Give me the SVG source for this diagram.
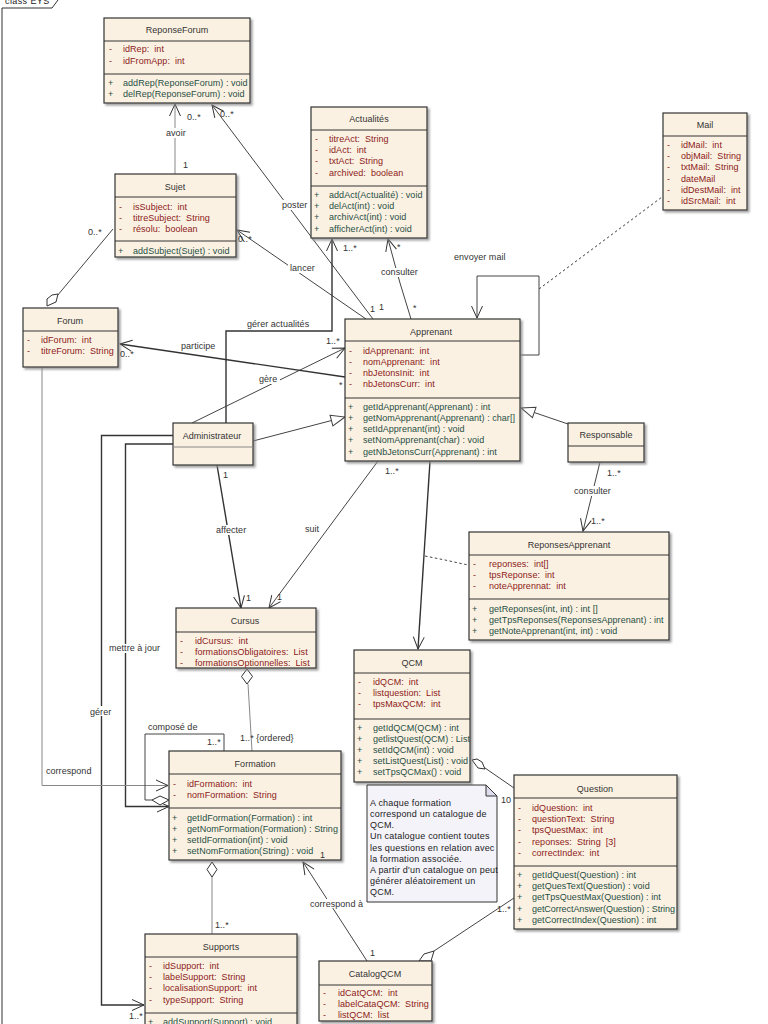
<svg xmlns="http://www.w3.org/2000/svg" width="768" height="1024" viewBox="0 0 768 1024">
<defs>
<filter id="sh" x="-5%" y="-5%" width="115%" height="115%"><feDropShadow dx="2" dy="2" stdDeviation="0.8" flood-color="#888" flood-opacity="0.8"/></filter>
<marker id="open" markerUnits="userSpaceOnUse" markerWidth="14" markerHeight="14" refX="13" refY="7" orient="auto"><path d="M1 1.5L13 7L1 12.5" fill="none" stroke="#333" stroke-width="1"/></marker>
<marker id="tri" markerUnits="userSpaceOnUse" markerWidth="16" markerHeight="14" refX="15" refY="7" orient="auto"><path d="M1 1.5L15 7L1 12.5Z" fill="#fff" stroke="#444" stroke-width="1"/></marker>
</defs>
<style>
text{font-family:"Liberation Sans",Arial,sans-serif;font-size:9px;fill:#222;letter-spacing:.04px}
.box{fill:#fbf1e2;stroke:#333;stroke-width:1.2;filter:url(#sh)}
.div{stroke:#333;stroke-width:1;fill:none}
.name{text-anchor:middle;fill:#333}
.a{fill:#8b1a1a;word-spacing:2.5px}
.m{fill:#1f4f45}
.c{fill:none;stroke:#444;stroke-width:1}
.g{stroke:#888}
.k{stroke:#333;stroke-width:1.4}
.d{stroke-dasharray:2.5 2.5}
.l{fill:#333}
.nt{letter-spacing:.2px}
</style>
<rect width="768" height="1024" fill="#fff"/>
<g id="frame"><path d="M2 1024V8H52L58 0" fill="none" stroke="#333" stroke-width="1"/><text x="5" y="4" style="letter-spacing:.4px">class EYS</text></g>

<g id="connectors">
<path class="c g" d="M175 174V104" marker-end="url(#open)"/>
<path class="c" d="M373 319L212 105" marker-end="url(#open)"/>
<path class="c" d="M366 319L237 230" marker-end="url(#open)"/>
<path class="c" d="M113 229L57 296"/>
<path class="c" d="M411 319L400 283L395 265L388 239" marker-end="url(#open)"/>
<path class="c k" d="M226 423V331H332V239" marker-end="url(#open)"/>
<path class="c" d="M192 423L345 348" marker-end="url(#open)"/>
<path class="c k" d="M345 377L120 344" marker-end="url(#open)"/>
<path class="c" d="M253 441L345 417" marker-end="url(#tri)"/>
<path class="c" d="M568 424L521 408" marker-end="url(#tri)"/>
<path class="c" d="M520 355H539V276H477V318" marker-end="url(#open)"/>
<path class="c d" d="M539 289L662 197"/>
<path class="c" d="M600 462L583 531" marker-end="url(#open)"/>
<path class="c k" d="M217 465L241 608" marker-end="url(#open)"/>
<path class="c" d="M378 461L269 608" marker-end="url(#open)"/>
<path class="c k g" d="M430 461L418 649" marker-end="url(#open)"/>
<path class="c d" d="M425 556L445 560L468 565"/>
<path class="c k" d="M173 435.500H101.500V1005H144" marker-end="url(#open)"/>
<path class="c k" d="M173 444H125.500V806.500H169" marker-end="url(#open)"/>
<path class="c g" d="M42 367V785.500H168" marker-end="url(#open)"/>
<path class="c" d="M224 751V734H145V800H152"/>
<path class="c g" d="M248 684L252 751"/>
<path class="c g" d="M212 934V877"/>
<path class="c" d="M367 961L303 862" marker-end="url(#open)"/>
<path class="c" d="M514 788L485 768"/>
<path class="c" d="M514 898L434 951"/>
</g>
<g id="heads" fill="#fff" stroke="#333">
<path d="M47 306L47 299L52 295L58 294L56 302Z"/>
<path d="M247 669L252.500 676.500L247 684L241.500 676.500Z"/>
<path d="M212 862L217 869.500L212 877L207 869.500Z"/>
<path d="M472 760L477 759L482 762L485 769L478 768Z"/>
<path d="M419 961L424 954L434 951L431 961Z"/>
<path d="M152 800L160 796L169 800L160 805Z"/>
</g>

<g id="ReponseForum"><rect class="box" x="104" y="18" width="146" height="85"/><path class="div" d="M104 41H250M104 74H250"/><text class="name" x="177" y="33">ReponseForum</text><text class="a" x="109" y="52">-</text><text class="a" x="123" y="52">idRep: int</text><text class="a" x="109" y="64">-</text><text class="a" x="123" y="64">idFromApp: int</text><text class="m" x="108" y="86">+</text><text class="m" x="123" y="86">addRep(ReponseForum) : void</text><text class="m" x="108" y="97">+</text><text class="m" x="123" y="97">delRep(ReponseForum) : void</text></g>

<g id="Sujet"><rect class="box" x="115" y="174" width="121" height="83"/><path class="div" d="M115 197H236M115 241H236"/><text class="name" x="175" y="190">Sujet</text><text class="a" x="119" y="210">-</text><text class="a" x="133" y="210">isSubject: int</text><text class="a" x="119" y="221">-</text><text class="a" x="133" y="221">titreSubject: String</text><text class="a" x="119" y="232">-</text><text class="a" x="133" y="232">résolu: boolean</text><text class="m" x="118" y="254">+</text><text class="m" x="133" y="254">addSubject(Sujet) : void</text></g>

<g id="Forum"><rect class="box" x="23" y="308" width="95" height="59"/><path class="div" d="M23 331H118"/><text class="name" x="70" y="324">Forum</text><text class="a" x="27" y="343">-</text><text class="a" x="41" y="343">idForum: int</text><text class="a" x="27" y="354">-</text><text class="a" x="41" y="354">titreForum: String</text></g>

<g id="Actualites"><rect class="box" x="311" y="107" width="116" height="131"/><path class="div" d="M311 130H427M311 186H427"/><text class="name" x="369" y="122">Actualités</text><text class="a" x="315" y="142">-</text><text class="a" x="329" y="142">titreAct: String</text><text class="a" x="315" y="153">-</text><text class="a" x="329" y="153">idAct: int</text><text class="a" x="315" y="164">-</text><text class="a" x="329" y="164">txtAct: String</text><text class="a" x="315" y="176">-</text><text class="a" x="329" y="176">archived: boolean</text><text class="m" x="314" y="198">+</text><text class="m" x="329" y="198">addAct(Actualité) : void</text><text class="m" x="314" y="209">+</text><text class="m" x="329" y="209">delAct(int) : void</text><text class="m" x="314" y="220">+</text><text class="m" x="329" y="220">archivAct(int) : void</text><text class="m" x="314" y="232">+</text><text class="m" x="329" y="232">afficherAct(int) : void</text></g>

<g id="Mail"><rect class="box" x="663" y="113" width="84" height="97"/><path class="div" d="M663 136H747"/><text class="name" x="705" y="128">Mail</text><text class="a" x="667" y="148">-</text><text class="a" x="681" y="148">idMail: int</text><text class="a" x="667" y="159">-</text><text class="a" x="681" y="159">objMail: String</text><text class="a" x="667" y="170">-</text><text class="a" x="681" y="170">txtMail: String</text><text class="a" x="667" y="182">-</text><text class="a" x="681" y="182">dateMail</text><text class="a" x="667" y="193">-</text><text class="a" x="681" y="193">idDestMail: int</text><text class="a" x="667" y="204">-</text><text class="a" x="681" y="204">idSrcMail: int</text></g>

<g id="Apprenant"><rect class="box" x="345" y="319" width="175" height="142"/><path class="div" d="M345 341H520M345 398H520"/><text class="name" x="431" y="335">Apprenant</text><text class="a" x="349" y="354">-</text><text class="a" x="363" y="354">idApprenant: int</text><text class="a" x="349" y="365">-</text><text class="a" x="363" y="365">nomApprenant: int</text><text class="a" x="349" y="376">-</text><text class="a" x="363" y="376">nbJetonsInit: int</text><text class="a" x="349" y="387">-</text><text class="a" x="363" y="387">nbJetonsCurr: int</text><text class="m" x="348" y="410">+</text><text class="m" x="363" y="410">getIdApprenant(Apprenant) : int</text><text class="m" x="348" y="421">+</text><text class="m" x="363" y="421">getNomApprenant(Apprenant) : char[]</text><text class="m" x="348" y="432">+</text><text class="m" x="363" y="432">setIdApprenant(int) : void</text><text class="m" x="348" y="443">+</text><text class="m" x="363" y="443">setNomApprenant(char) : void</text><text class="m" x="348" y="455">+</text><text class="m" x="363" y="455">getNbJetonsCurr(Apprenant) : int</text></g>

<g id="Responsable"><rect class="box" x="568" y="423" width="76" height="39"/><path class="div" d="M568 446H644"/><text class="name" x="606" y="438">Responsable</text></g>

<g id="Administrateur"><rect class="box" x="173" y="423" width="80" height="42"/><path class="div" d="M173 447H253" style="stroke:#888"/><text class="name" x="212" y="439">Administrateur</text></g>

<g id="ReponsesApprenant"><rect class="box" x="469" y="532" width="200" height="108"/><path class="div" d="M469 555H669M469 599H669"/><text class="name" x="569" y="548">ReponsesApprenant</text><text class="a" x="473" y="567">-</text><text class="a" x="489" y="567">reponses: int[]</text><text class="a" x="473" y="578">-</text><text class="a" x="489" y="578">tpsReponse: int</text><text class="a" x="473" y="589">-</text><text class="a" x="489" y="589">noteApprennat: int</text><text class="m" x="472" y="612">+</text><text class="m" x="489" y="612">getReponses(int, int) : int []</text><text class="m" x="472" y="623">+</text><text class="m" x="489" y="623">getTpsReponses(ReponsesApprenant) : int</text><text class="m" x="472" y="634">+</text><text class="m" x="489" y="634">getNoteApprenant(int, int) : void</text></g>

<g id="Cursus"><rect class="box" x="176" y="608" width="140" height="60"/><path class="div" d="M176 632H316"/><text class="name" x="245" y="624">Cursus</text><text class="a" x="180" y="644">-</text><text class="a" x="195" y="644">idCursus: int</text><text class="a" x="180" y="655">-</text><text class="a" x="195" y="655">formationsObligatoires: List</text><text class="a" x="180" y="666">-</text><text class="a" x="195" y="666">formationsOptionnelles: List</text></g>

<g id="QCM"><rect class="box" x="354" y="650" width="116" height="132"/><path class="div" d="M354 673H470M354 719H470"/><text class="name" x="412" y="666">QCM</text><text class="a" x="358" y="685">-</text><text class="a" x="373" y="685">idQCM: int</text><text class="a" x="358" y="696">-</text><text class="a" x="373" y="696">listquestion: List</text><text class="a" x="358" y="707">-</text><text class="a" x="373" y="707">tpsMaxQCM: int</text><text class="m" x="357" y="731">+</text><text class="m" x="373" y="731">getIdQCM(QCM) : int</text><text class="m" x="357" y="742">+</text><text class="m" x="373" y="742">getlistQuest(QCM) : List</text><text class="m" x="357" y="753">+</text><text class="m" x="373" y="753">setIdQCM(int) : void</text><text class="m" x="357" y="764">+</text><text class="m" x="373" y="764">setListQuest(List) : void</text><text class="m" x="357" y="775">+</text><text class="m" x="373" y="775">setTpsQCMax() : void</text></g>

<g id="Formation"><rect class="box" x="169" y="751" width="172" height="109"/><path class="div" d="M169 774H341M169 808H341"/><text class="name" x="255" y="767">Formation</text><text class="a" x="173" y="787">-</text><text class="a" x="187" y="787">idFormation: int</text><text class="a" x="173" y="798">-</text><text class="a" x="187" y="798">nomFormation: String</text><text class="m" x="172" y="821">+</text><text class="m" x="187" y="821">getIdFormation(Formation) : int</text><text class="m" x="172" y="832">+</text><text class="m" x="187" y="832">getNomFormation(Formation) : String</text><text class="m" x="172" y="843">+</text><text class="m" x="187" y="843">setIdFormation(int) : void</text><text class="m" x="172" y="854">+</text><text class="m" x="187" y="854">setNomFormation(String) : void</text></g>

<g id="Note"><path d="M367 785H486L497 796V902H367Z" fill="#f4f3fa" stroke="#333"/><path d="M486 785V796H497Z" fill="#dde" stroke="#333"/><text class="nt" x="370" y="806">A chaque formation</text><text class="nt" x="370" y="817">correspond un catalogue de</text><text class="nt" x="370" y="828">QCM.</text><text class="nt" x="370" y="839">Un catalogue contient toutes</text><text class="nt" x="370" y="851">les questions en relation avec</text><text class="nt" x="370" y="862">la formation associée.</text><text class="nt" x="370" y="873">A partir d'un catalogue on peut</text><text class="nt" x="370" y="884">générer aléatoirement un</text><text class="nt" x="370" y="895">QCM.</text></g>

<g id="Question"><rect class="box" x="514" y="775" width="163" height="154"/><path class="div" d="M514 798H677M514 866H677"/><text class="name" x="595" y="792">Question</text><text class="a" x="518" y="811">-</text><text class="a" x="532" y="811">idQuestion: int</text><text class="a" x="518" y="822">-</text><text class="a" x="532" y="822">questionText: String</text><text class="a" x="518" y="833">-</text><text class="a" x="532" y="833">tpsQuestMax: int</text><text class="a" x="518" y="845">-</text><text class="a" x="532" y="845">reponses: String [3]</text><text class="a" x="518" y="856">-</text><text class="a" x="532" y="856">correctIndex: int</text><text class="m" x="517" y="878">+</text><text class="m" x="532" y="878">getIdQuest(Question) : int</text><text class="m" x="517" y="889">+</text><text class="m" x="532" y="889">getQuesText(Question) : void</text><text class="m" x="517" y="900">+</text><text class="m" x="532" y="900">getTpsQuestMax(Question) : int</text><text class="m" x="517" y="912">+</text><text class="m" x="532" y="912" textLength="143">getCorrectAnswer(Question) : String</text><text class="m" x="517" y="923">+</text><text class="m" x="532" y="923">getCorrectIndex(Question) : int</text></g>

<g id="Supports"><rect class="box" x="145" y="934" width="152" height="110"/><path class="div" d="M145 957H297M145 1013H297"/><text class="name" x="221" y="950">Supports</text><text class="a" x="149" y="969">-</text><text class="a" x="163" y="969">idSupport: int</text><text class="a" x="149" y="980">-</text><text class="a" x="163" y="980">labelSupport: String</text><text class="a" x="149" y="991">-</text><text class="a" x="163" y="991">localisationSupport: int</text><text class="a" x="149" y="1003">-</text><text class="a" x="163" y="1003">typeSupport: String</text><text class="m" x="148" y="1025">+</text><text class="m" x="163" y="1025">addSupport(Support) : void</text></g>

<g id="CatalogQCM"><rect class="box" x="319" y="961" width="113" height="60"/><path class="div" d="M319 985H432"/><text class="name" x="375" y="977">CatalogQCM</text><text class="a" x="323" y="996">-</text><text class="a" x="338" y="996">idCatQCM: int</text><text class="a" x="323" y="1007">-</text><text class="a" x="338" y="1007">labelCataQCM: String</text><text class="a" x="323" y="1018">-</text><text class="a" x="338" y="1018">listQCM: list</text></g>

<g id="labels">
<rect x="165" y="128" width="22" height="10" fill="#fff"/><rect x="281" y="200" width="26" height="10" fill="#fff"/><rect x="288" y="263" width="28" height="10" fill="#fff"/><rect x="379" y="268" width="40" height="9" fill="#fff"/><rect x="258" y="375" width="22" height="9" fill="#fff"/><rect x="213" y="525" width="32" height="10" fill="#fff"/><rect x="108" y="644" width="54" height="9" fill="#fff"/><rect x="89" y="706" width="24" height="10" fill="#fff"/><rect x="309" y="899" width="54" height="9" fill="#fff"/><rect x="572" y="486" width="40" height="10" fill="#fff"/>
<text class="l" x="166" y="136">avoir</text><text class="l" x="187" y="120">0..*</text><text class="l" x="183" y="168">1</text><text class="l" x="220" y="117">0..*</text>
<text class="l" x="282" y="208">poster</text><text class="l" x="290" y="271">lancer</text><text class="l" x="238" y="242">0..*</text><text class="l" x="88" y="235">0..*</text>
<text class="l" x="247" y="327">gérer actualités</text><text class="l" x="343" y="251">1..*</text><text class="l" x="381" y="275">consulter</text><text class="l" x="397" y="250">*</text><text class="l" x="413" y="311">*</text>
<text class="l" x="370" y="312">1</text><text class="l" x="379" y="310">1</text><text class="l" x="454" y="260">envoyer mail</text>
<text class="l" x="181" y="349">participe</text><text class="l" x="120" y="357">0..*</text><text class="l" x="326" y="344">1..*</text><text class="l" x="339" y="388">*</text><text class="l" x="259" y="382">gère</text>
<text class="l" x="216" y="533">affecter</text><text class="l" x="305" y="532">suit</text><text class="l" x="223" y="478">1</text><text class="l" x="246" y="601">1</text><text class="l" x="277" y="600">1</text>
<text class="l" x="385" y="474">1..*</text><text class="l" x="607" y="476">1..*</text><text class="l" x="574" y="494">consulter</text><text class="l" x="591" y="524">1..*</text>
<text class="l" x="109" y="651">mettre à jour</text><text class="l" x="90" y="715">gérer</text><text class="l" x="46" y="774">correspond</text><text class="l" x="148" y="730">composé de</text><text class="l" x="207" y="745">1..*</text><text class="l" x="240" y="741">1..* {ordered}</text>
<text class="l" x="215" y="928">1..*</text><text class="l" x="129" y="1019">1..*</text><text class="l" x="320" y="858">1</text><text class="l" x="310" y="907">correspond à</text><text class="l" x="370" y="956">1</text><text class="l" x="501" y="803">10</text><text class="l" x="497" y="912">1..*</text>
</g>
</svg>
